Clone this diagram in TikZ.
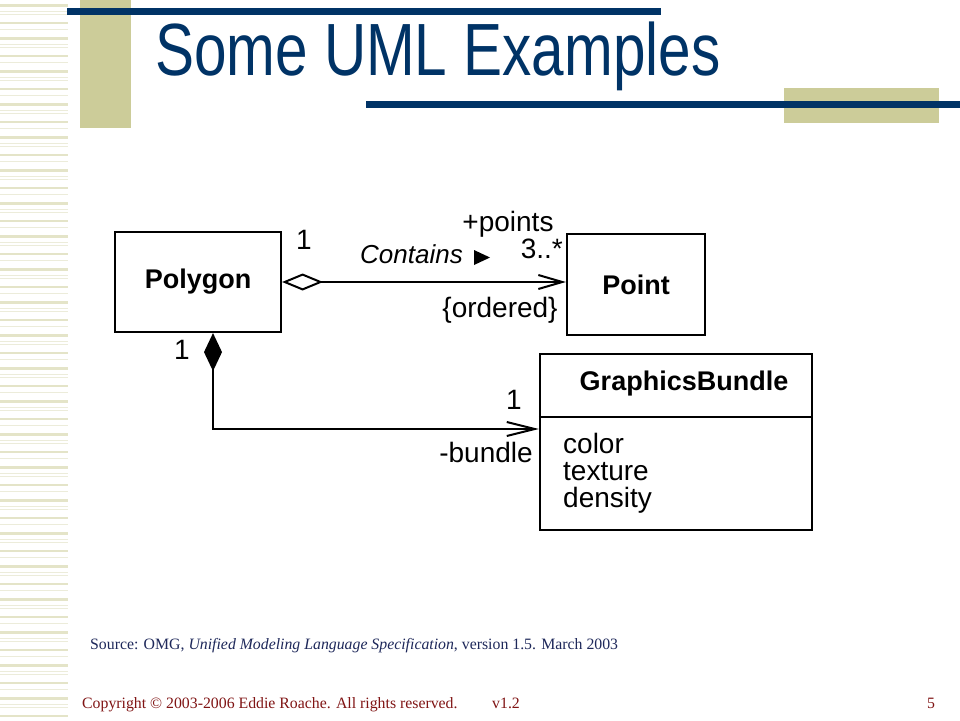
\documentclass[tikz,border=0pt]{standalone}
\usepackage{fontspec}
\setmainfont{Liberation Sans}
\newfontfamily\titlefont[FakeStretch=0.79]{Liberation Sans}
\newfontfamily\seriffont{Liberation Serif}
\usetikzlibrary{arrows.meta}
\definecolor{navy}{RGB}{0,51,102}
\definecolor{olive}{RGB}{204,204,153}
\definecolor{stripe}{RGB}{228,228,200}
\definecolor{stripelt}{RGB}{236,236,218}
\definecolor{srcblue}{RGB}{30,40,90}
\definecolor{maroonc}{RGB}{128,20,20}
\begin{document}
\begin{tikzpicture}[x=1pt,y=-1pt,
  classbox/.style={draw, line width=2.2pt, inner sep=0pt},
  clsname/.style={font=\bfseries\fontsize{27}{30}\selectfont},
  lbl/.style={font=\fontsize{28}{30}\selectfont, inner sep=0pt},
  assoc/.style={line width=2pt},
  foot/.style={font=\seriffont\fontsize{15.8}{17}\selectfont, inner sep=0pt, anchor=base west}]
\fill[white] (0,0) rectangle (960,720);
\useasboundingbox (0,0) rectangle (960,720);
% left stripes
\foreach \y in {0,33,...,720} {
  \fill[stripe] (0,{\y+4}) rectangle (68,{\y+7});
  \fill[stripelt] (0,{\y+11}) rectangle (68,{\y+12});
  \fill[stripelt] (0,{\y+14}) rectangle (68,{\y+15});
  \fill[stripe] (0,{\y+22}) rectangle (68,{\y+24});
  \fill[stripelt] (0,{\y+29}) rectangle (68,{\y+30});
}
% decorations
\fill[olive] (80,0) rectangle (131,128);
\fill[olive] (784,88) rectangle (939,123);
\fill[navy] (67,8) rectangle (661,15);
\fill[navy] (366,101) rectangle (960,108);
\node[anchor=base west, font=\titlefont\fontsize{74}{80}\selectfont, text=navy, inner sep=0pt] (title) at (155,75) {Some UML Examples};
% classes
\node[classbox, minimum width=166pt, minimum height=100pt, clsname] (poly) at (198,282) {Polygon};
\node[classbox, minimum width=138pt, minimum height=101pt, clsname] (point) at (636,284.5) {Point};
\node[classbox, minimum width=272pt, minimum height=176pt] (gb) at (676,442) {};
\draw[line width=2.2pt] ([yshift=-64pt]gb.north west) -- ([yshift=-64pt]gb.north east);
\node[clsname, inner sep=0pt] (gbname) at (684,384) {GraphicsBundle};
\node[lbl, anchor=north west, align=left, font=\fontsize{28}{27}\selectfont] (gbattr) at (563,433) {color\\texture\\density};
% associations
\draw[assoc, {Diamond[open,length=41pt,width=17pt]}-{Straight Barb[length=24pt,width=14pt]}] (poly.east) -- (poly.east -| point.west);
\draw[assoc, {Diamond[length=38pt,width=18pt]}-{Straight Barb[length=28pt,width=14pt]}] ([xshift=15pt]poly.south) |- ([yshift=13pt]gb.west);
% labels
\node[lbl] (m1) at (304,240) {1};
\node[lbl, anchor=base] (pts) at (508,231) {+points};
\node[lbl, anchor=base east] (mult) at (563,258) {3..*};
\node[lbl, anchor=base west, font=\itshape\fontsize{26}{30}\selectfont] (cont) at (360,263) {Contains};
\fill (474,250) -- (490,257.5) -- (474,265) -- cycle;
\node[lbl] (ord) at (500,310) {\{ordered\}};
\node[lbl] (m2) at (182,350) {1};
\node[lbl] (m3) at (514,400) {1};
\node[lbl] (bnd) at (486,452) {-bundle};
% footer
\node[foot, text=srcblue] (src) at (90,649) {Source: OMG, \textit{Unified Modeling Language Specification}, version 1.5. March 2003};
\node[foot, text=maroonc] (copy) at (82,708) {Copyright \textcopyright{} 2003-2006 Eddie Roache. All rights reserved.};
\node[foot, text=maroonc] (ver) at (492,708) {v1.2};
\node[foot, text=maroonc] (pg) at (927,708) {5};
\end{tikzpicture}
\end{document}
